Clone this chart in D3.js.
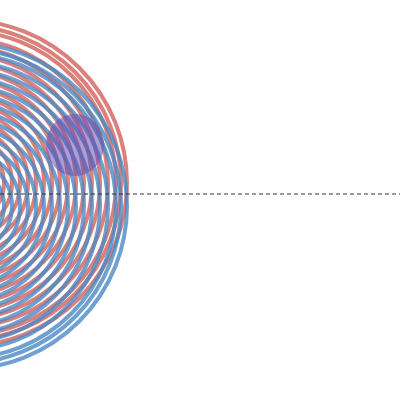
<!DOCTYPE html>
<html><head><meta charset="utf-8">
<script src="https://cdn.jsdelivr.net/npm/d3@7"></script>
<style>body{margin:0;background:#fff}</style></head>
<body><svg id="c" width="400" height="400"></svg>
<script>
// ring radii (data units) and centre offsets of the two families
const redRadii = [8,16,24,32,40,48,56,64,72,80,88,96,104,112,120,128,136,144,152,157,163];
const blueRadii = [8,16,24,32,40,48,56,64,72,80,88,96,104,112,120,128,136,144,152,157,163];
const redCenter = {x: -36, y: 11};
const blueCenter = {x: -36, y: -12};
const blob = {x: 75, y: 49, rx: 29, ry: 31};

const svg = d3.select('#c');
// data units -> pixels (y up)
const x = d3.scaleLinear().domain([0, 400]).range([0, 400]);
const y = d3.scaleLinear().domain([0, 194]).range([194, 0]);
const s = d => x(d) - x(0);

svg.selectAll('circle.red').data(redRadii).enter().append('circle')
  .attr('class','red')
  .attr('cx', x(redCenter.x)).attr('cy', y(redCenter.y))
  .attr('r', d => s(d))
  .attr('fill','none').attr('stroke','#d2605a').attr('stroke-opacity',0.8).attr('stroke-width',4);

svg.selectAll('circle.blue').data(blueRadii).enter().append('circle')
  .attr('class','blue')
  .attr('cx', x(blueCenter.x)).attr('cy', y(blueCenter.y))
  .attr('r', d => s(d))
  .attr('fill','none').attr('stroke','#4a88c4').attr('stroke-opacity',0.8).attr('stroke-width',4);

// cover left arcs region isn't needed; blob
svg.append('ellipse')
  .attr('cx', x(blob.x)).attr('cy', y(blob.y))
  .attr('rx', s(blob.rx)).attr('ry', s(blob.ry))
  .attr('fill','#6a4fb0').attr('fill-opacity',0.55);

svg.append('line')
  .attr('x1', x(0)).attr('x2', x(400)).attr('y1', y(0)).attr('y2', y(0))
  .attr('stroke','#333').attr('stroke-width',1.2).attr('stroke-dasharray','4,3');
</script></body></html>
